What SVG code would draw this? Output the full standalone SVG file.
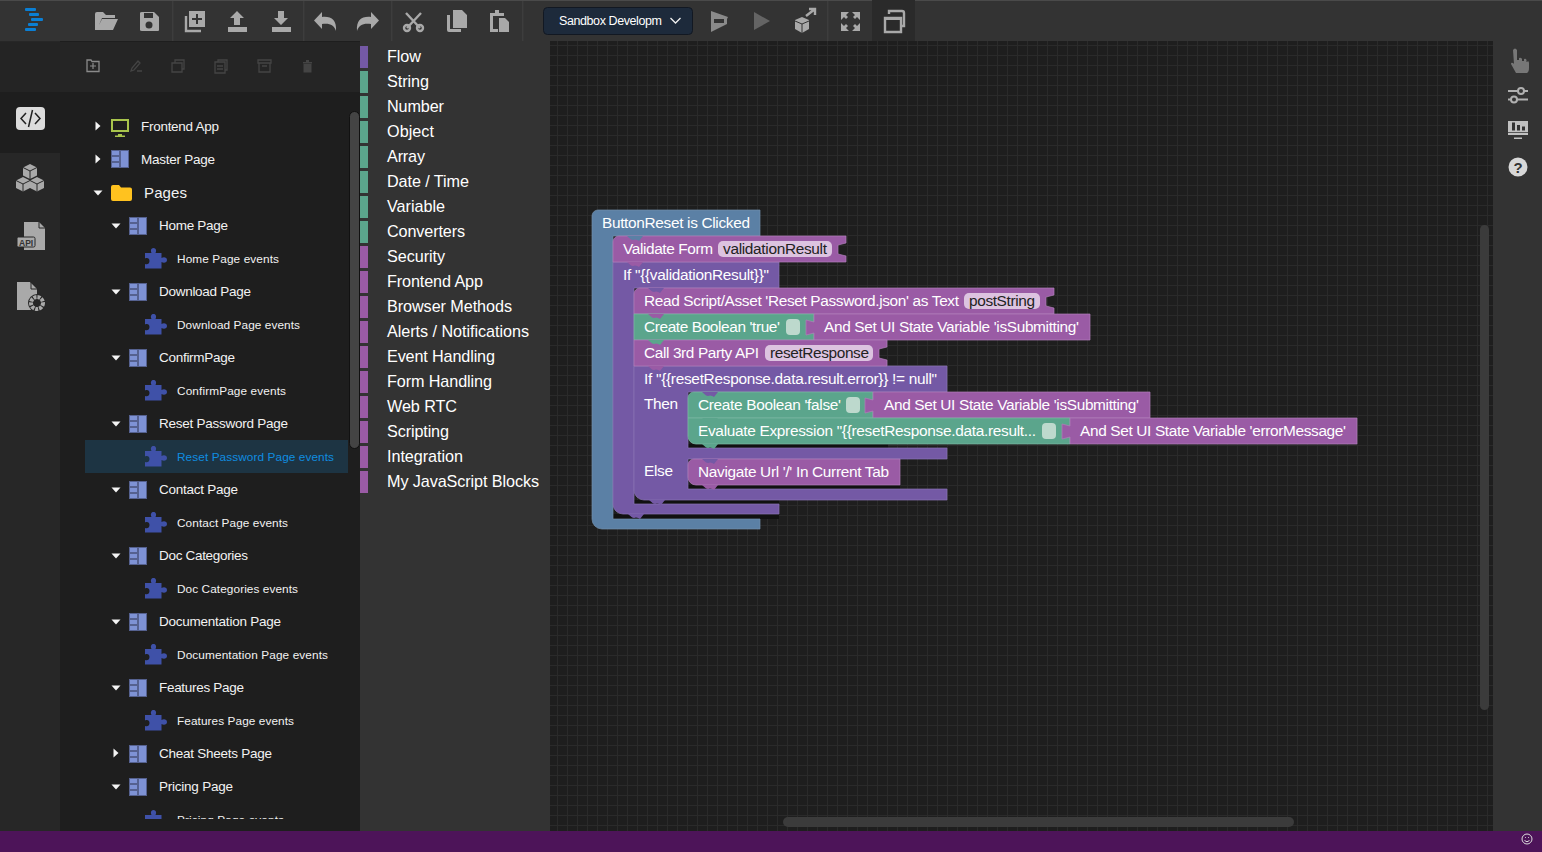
<svg xmlns="http://www.w3.org/2000/svg" width="1542" height="852" viewBox="0 0 1542 852">
<style>
text{font-family:"Liberation Sans",Arial,sans-serif;fill:#fff}
.b{font-size:15.400px}
.cat{font-size:16.200px}
.t{font-size:13.500px;fill:#f2f2f2}
.e{font-size:11.800px;fill:#f2f2f2}
.pill{fill:#dcc3e0}
.pt{fill:#222;font-size:15.400px}
.bool{fill:#bdd9cd}
.pk{fill:#9a5ba5;stroke:#b27fba;stroke-width:.7}
.vi{fill:#7459a5;stroke:#8b74b5;stroke-width:.7}
.gr{fill:#5ba58c;stroke:#7cb9a4;stroke-width:.7}
.bl{fill:#5b80a5;stroke:#7491ae;stroke-width:.7}
.ic{fill:#a9a9a9}
.ln{fill:none;stroke:#a9a9a9;stroke-width:2.400}
.dim{fill:#444}
.dl{fill:none;stroke:#444;stroke-width:1.300}
.sep{fill:#3d3d3d}
.ar{fill:#f4f4f4}
</style>
<defs>
<pattern id="grid" width="10" height="10" patternUnits="userSpaceOnUse" x="7" y="5">
<rect width="10" height="10" fill="#1e1e1e"/>
<path d="M.5 0V10M0 .5H10" stroke="#2a2a2a" stroke-width="1" fill="none"/>
</pattern>
<g id="page"><rect x=".5" y=".5" width="8" height="5" fill="#7e92d4" stroke="#55618f"/><rect x=".5" y="6.500" width="8" height="5" fill="#7e92d4" stroke="#55618f"/><rect x=".5" y="12.500" width="8" height="5" fill="#7e92d4" stroke="#55618f"/><rect x="9.500" y=".5" width="8" height="17" fill="#7e92d4" stroke="#55618f"/></g>
<path id="puz" fill="#3f51a8" d="M0 5H6.500C5 2 6.500 0 8.500 0S12 2 10.500 5H16.500V10C19 8.500 22 9.500 22 12S19 15.500 16.500 14V20.500H0V16C2.500 17 4.500 15.500 4.500 13S2.500 9.500 0 10.500Z"/>
<path id="ad" class="ar" d="M-4.500 -2.500H4.500L0 2.500Z"/>
<path id="ar" class="ar" d="M-2.500 -4.500L2.500 0L-2.500 4.500Z"/>
<path id="bump" d="M0 0L3.500 3Q5.500 4.500 8 3.500Q10.500 3.500 12 5L16 0Z"/>
<clipPath id="tree"><rect x="60" y="100" width="289" height="719"/></clipPath>
</defs>

<rect width="1542" height="852" fill="#333"/>
<rect id="canvas" x="550" y="41" width="943" height="790" fill="url(#grid)"/>
<rect x="0" y="41" width="60" height="790" fill="#272727"/>
<rect x="0" y="42" width="60" height="50" fill="#242424"/>
<rect x="0" y="92" width="60" height="61" fill="#1e1e1e"/>
<rect x="60" y="41" width="300" height="790" fill="#1e1e1e"/>
<rect x="60" y="42" width="300" height="50" fill="#252525"/>
<rect x="0" y="831" width="1542" height="21" fill="#4d1459"/>
<rect x="0" y="0" width="1542" height="1" fill="#4a4a4a"/>
<rect x="872" y="0" width="43" height="41" fill="#2a2a2a"/>
<rect class="sep" x="172" y="1" width="1.500" height="40"/>
<rect class="sep" x="303" y="1" width="1.500" height="40"/>
<rect class="sep" x="391" y="1" width="1.500" height="40"/>
<rect class="sep" x="522" y="1" width="1.500" height="40"/>
<rect class="sep" x="827" y="1" width="1.500" height="40"/>

<g id="logo" fill="#0b7fd4"><rect x="25" y="8" width="11" height="3" rx="1"/><rect x="29" y="13" width="10" height="3" rx="1"/><rect x="31" y="18" width="12" height="3" rx="1"/><rect x="28" y="23" width="10" height="3" rx="1"/><rect x="25" y="28" width="11" height="3" rx="1"/></g>

<g id="toolbar">
<path class="ic" d="M95 30V14q0-2 2-2h6l3 3h9v3h-13l-3 7 3-6h16l-5 11H95Z"/>
<path class="ic" d="M142 12h12l5 5v13q0 1-1 1h-16q-2 0-2-1V13q0-1 2-1Z"/><rect x="144" y="13" width="9" height="5" fill="#333"/><circle cx="149" cy="25" r="3.500" fill="#333"/>
<path class="ln" d="M186 16v15h15"/><rect class="ic" x="189" y="11" width="16" height="16"/><path d="M196 14h2v4h4v2h-4v4h-2v-4h-4v-2h4Z" fill="#333"/>
<path class="ic" d="M237 11l7 7h-4v7h-6v-7h-4ZM228 27h19v5h-19Z"/>
<path class="ic" d="M278 11h6v7h4l-7 7-7-7h4ZM272 27h19v5h-19Z"/>
<path class="ic" d="M322 12v5c9-1 15 3 14 14-2-6-6-8-14-7v5l-8-8.500Z"/>
<path class="ic" d="M371 12v5c-9-1-15 3-14 14 2-6 6-8 14-7v5l8-8.500Z"/>
<path class="ln" d="M406 13l14 15M421 13l-14 15" stroke-width="3"/><circle class="ln" cx="407" cy="28" r="3"/><circle class="ln" cx="420" cy="28" r="3"/>
<path class="ic" d="M447 15h3v14h11v3h-12q-2 0-2-2ZM453 10h9l5 5v13h-14Z"/>
<path class="ic" d="M490 13h5v-3h4v3h5v3h-14ZM490 16h3v13h5v3h-8ZM499 18h6l4 4v10h-10Z"/>
<path d="M711 11l17 6-1 2v5l-16 8Zm3 8v4h10v-4Z" fill="#8a8a8a"/>
<path d="M754 12l16 9-16 9Z" fill="#646464"/>
<path class="ic" d="M795 20l7-3 7 3v9l-7 4-7-4Z"/><path d="M795 21l7 3 7-3M802 24v9" stroke="#333" fill="none"/><path class="ln" d="M806 16l9-7m-6 0h6v6" stroke-width="1.800"/>
<path class="ic" d="M841 12h8l-3 3 2 2-2 2-2-2-3 3ZM860 12v8l-3-3-2 2-2-2 2-2-3-3ZM841 31v-8l3 3 2-2 2 2-2 2 3 3ZM860 31h-8l3-3-2-2 2-2 2 2 3-3Z"/>
<path class="ln" d="M885 18h16v14h-16ZM889 14v-3h13q2 0 2 2v13h-3" stroke-width="2"/><rect class="ic" x="885" y="17" width="16" height="3"/>
</g>

<g id="env">
<rect x="543.500" y="7.500" width="149" height="27" rx="4" fill="#1d2a3b" stroke="#121822"/>
<text x="559" y="25" font-size="12.500" textLength="103">Sandbox Developm</text>
<path d="M670.500 18l5 5 5-5" fill="none" stroke="#f0f0f0" stroke-width="1.300"/>
</g>

<g id="rail">
<rect x="16" y="107" width="29" height="23" rx="4" fill="#dcdcdc"/>
<path d="M26 113l-5 5.500 5 5.500M35 113l5 5.500-5 5.500M32.500 110l-4 17" fill="none" stroke="#222" stroke-width="1.500"/>
<path class="ic" d="M30 164l7 3.500v8L30 179l-7-3.500v-8ZM23 177l7 3.500v7.500l-7 3.500-7-3.500v-7.500ZM37 177l7 3.500v7.500l-7 3.500-7-3.500v-7.500Z"/>
<path d="M23 167.500l7 3.500 7-3.500M16 180.500l7 3.500 7-3.500M30 180.500l7 3.500 7-3.500M30 171v8M23 184v7.500M37 184v7.500" fill="none" stroke="#272727" stroke-width="1"/>
<path class="ic" d="M24 222h15l6 6v22H24Z"/><path d="M39 222v6h6" fill="none" stroke="#272727"/>
<rect x="17" y="237" width="18" height="10" rx="1.500" fill="#a9a9a9" stroke="#272727"/>
<text x="19" y="245.500" font-size="8.500" style="fill:#333" font-weight="bold">API</text>
<path class="ic" d="M17 282h13l7 7v21H17Z"/><path d="M31 282v7h7" fill="none" stroke="#272727"/>
<circle cx="37" cy="303" r="9" fill="#272727"/><circle cx="37" cy="303" r="6" fill="none" stroke="#a9a9a9" stroke-width="4" stroke-dasharray="3 1"/>
</g>

<g id="right-rail">
<path d="M1513 50q2-3 4 0V60h2v-2q2-1 3 1v2h2v-2q2-1 2.500 1v2h1v-1q1.500 0 1.500 2v5q0 4-2 5h-11l-5-9q0-2 2-1l1 1Z" fill="#777"/>
<path d="M1508 91h20M1508 99.500h20" stroke="#b0b0b0" stroke-width="1.800" fill="none"/><circle cx="1521" cy="91" r="3" fill="#333" stroke="#b0b0b0" stroke-width="2"/><circle cx="1514" cy="99.500" r="3" fill="#333" stroke="#b0b0b0" stroke-width="2"/>
<path d="M1508 121h20v14h-20Z" fill="#c0c0c0"/><path d="M1512 122.500h3v8h-3ZM1517 125h3v5.500h-3ZM1522 126.500h3v4h-3ZM1508 132h20v.8h-20Z" fill="#333"/><path d="M1514 137.500h8v1.500h-8Z" fill="#c0c0c0"/>
<circle cx="1518" cy="167" r="9.500" fill="#d8d8d8"/><text x="1518" y="172.500" font-size="15" font-weight="bold" text-anchor="middle" style="fill:#333">?</text>
</g>

<g id="panel-tools">
<path d="M87 60h4l1 1.500h7v10H87Z" fill="none" stroke="#8a8a8a" stroke-width="1.300"/><path d="M93 63v6M90 66h6" stroke="#8a8a8a" stroke-width="1.200"/>
<path class="dl" d="M131 71l1-3 6-7 2 2-6 7ZM137 71h5"/>
<path class="dl" d="M172 63h10v9h-10ZM175 63v-3h9v9h-2"/>
<path class="dl" d="M215 62h10v11h-10ZM218 62v-2h9v10h-2M217 66h6M217 69h6"/>
<path class="dl" d="M258 60h13v3h-13ZM259 63v9h11v-9M262 66h5"/>
<path class="dim" d="M303 62h9v1.500h-9ZM306 60h3v2h-3ZM303.500 64h8v8.500h-8Z"/>
</g>

<g id="tree-panel" clip-path="url(#tree)">
<rect x="85" y="440" width="263" height="33" fill="#1d3443"/>
<g id="n-frontend"><use href="#ar" x="98" y="126"/><path d="M112 120h16v11h-16Z" fill="none" stroke="#a8c44c" stroke-width="2"/><path d="M118 134h4v1.500h3v1.500h-10v-1.500h3Z" fill="#a8c44c"/><text class="t" x="141" y="131" textLength="78">Frontend App</text></g>
<g id="n-master"><use href="#ar" x="98" y="159"/><use href="#page" x="111" y="150"/><text class="t" x="141" y="164" textLength="74">Master Page</text></g>
<g id="n-pages"><use href="#ad" x="98" y="193"/><path d="M111 187q0-2 2-2h6l2 2.500h9q2 0 2 2V199q0 2-2 2h-17q-2 0-2-2Z" fill="#ffc21f"/><text class="t" x="144" y="198" style="font-size:15px" textLength="43">Pages</text></g>
<g id="n-home"><use href="#ad" x="116" y="226"/><use href="#page" x="129" y="217"/><text class="t" x="159" y="230" textLength="69">Home Page</text></g>
<g id="n-home-ev"><use href="#puz" x="145" y="248"/><text class="e" x="177" y="263" textLength="102">Home Page events</text></g>
<g id="n-download"><use href="#ad" x="116" y="292"/><use href="#page" x="129" y="283"/><text class="t" x="159" y="296" textLength="92">Download Page</text></g>
<g id="n-download-ev"><use href="#puz" x="145" y="314"/><text class="e" x="177" y="329" textLength="123">Download Page events</text></g>
<g id="n-confirm"><use href="#ad" x="116" y="358"/><use href="#page" x="129" y="349"/><text class="t" x="159" y="362" textLength="76">ConfirmPage</text></g>
<g id="n-confirm-ev"><use href="#puz" x="145" y="380"/><text class="e" x="177" y="395" textLength="109">ConfirmPage events</text></g>
<g id="n-reset"><use href="#ad" x="116" y="424"/><use href="#page" x="129" y="415"/><text class="t" x="159" y="428" textLength="129">Reset Password Page</text></g>
<g id="n-reset-ev"><use href="#puz" x="145" y="446"/><text class="e" x="177" y="461" textLength="157" style="fill:#0f8de0">Reset Password Page events</text></g>
<g id="n-contact"><use href="#ad" x="116" y="490"/><use href="#page" x="129" y="481"/><text class="t" x="159" y="494" textLength="79">Contact Page</text></g>
<g id="n-contact-ev"><use href="#puz" x="145" y="512"/><text class="e" x="177" y="527" textLength="111">Contact Page events</text></g>
<g id="n-doc"><use href="#ad" x="116" y="556"/><use href="#page" x="129" y="547"/><text class="t" x="159" y="560" textLength="89">Doc Categories</text></g>
<g id="n-doc-ev"><use href="#puz" x="145" y="578"/><text class="e" x="177" y="593" textLength="121">Doc Categories events</text></g>
<g id="n-documentation"><use href="#ad" x="116" y="622"/><use href="#page" x="129" y="613"/><text class="t" x="159" y="626" textLength="122">Documentation Page</text></g>
<g id="n-documentation-ev"><use href="#puz" x="145" y="644"/><text class="e" x="177" y="659" textLength="151">Documentation Page events</text></g>
<g id="n-features"><use href="#ad" x="116" y="688"/><use href="#page" x="129" y="679"/><text class="t" x="159" y="692" textLength="85">Features Page</text></g>
<g id="n-features-ev"><use href="#puz" x="145" y="710"/><text class="e" x="177" y="725" textLength="117">Features Page events</text></g>
<g id="n-cheat"><use href="#ar" x="116" y="753"/><use href="#page" x="129" y="745"/><text class="t" x="159" y="758" textLength="113">Cheat Sheets Page</text></g>
<g id="n-pricing"><use href="#ad" x="116" y="787"/><use href="#page" x="129" y="778"/><text class="t" x="159" y="791" textLength="74">Pricing Page</text></g>
<g id="n-pricing-ev"><use href="#puz" x="145" y="810"/><text class="e" x="177" y="824" textLength="107">Pricing Page events</text></g>
</g>
<rect x="349.500" y="111.500" width="10" height="337" rx="5" fill="#444" stroke="#111"/>

<g id="categories">
<g fill="#7459a5"><rect x="360" y="46" width="8" height="22"/></g>
<g fill="#5ba58c"><rect x="360" y="71" width="8" height="22"/><rect x="360" y="96" width="8" height="22"/><rect x="360" y="121" width="8" height="22"/><rect x="360" y="146" width="8" height="22"/><rect x="360" y="171" width="8" height="22"/><rect x="360" y="196" width="8" height="22"/><rect x="360" y="221" width="8" height="22"/></g>
<g fill="#9a5ba5"><rect x="360" y="246" width="8" height="22"/><rect x="360" y="271" width="8" height="22"/><rect x="360" y="296" width="8" height="22"/><rect x="360" y="321" width="8" height="22"/><rect x="360" y="346" width="8" height="22"/><rect x="360" y="371" width="8" height="22"/><rect x="360" y="396" width="8" height="22"/><rect x="360" y="421" width="8" height="22"/><rect x="360" y="446" width="8" height="22"/><rect x="360" y="471" width="8" height="22"/></g>
<text class="cat" x="387" y="62" textLength="34">Flow</text>
<text class="cat" x="387" y="87" textLength="42">String</text>
<text class="cat" x="387" y="112" textLength="57">Number</text>
<text class="cat" x="387" y="137" textLength="47">Object</text>
<text class="cat" x="387" y="162" textLength="38">Array</text>
<text class="cat" x="387" y="187" textLength="82">Date / Time</text>
<text class="cat" x="387" y="212" textLength="58">Variable</text>
<text class="cat" x="387" y="237" textLength="78">Converters</text>
<text class="cat" x="387" y="262" textLength="58">Security</text>
<text class="cat" x="387" y="287" textLength="96">Frontend App</text>
<text class="cat" x="387" y="312" textLength="125">Browser Methods</text>
<text class="cat" x="387" y="337" textLength="142">Alerts / Notifications</text>
<text class="cat" x="387" y="362" textLength="108">Event Handling</text>
<text class="cat" x="387" y="387" textLength="105">Form Handling</text>
<text class="cat" x="387" y="412" textLength="70">Web RTC</text>
<text class="cat" x="387" y="437" textLength="62">Scripting</text>
<text class="cat" x="387" y="462" textLength="76">Integration</text>
<text class="cat" x="387" y="487" textLength="152">My JavaScript Blocks</text>
</g>

<g id="scrollbars" fill="#3b3b3b">
<rect x="1480" y="225" width="9" height="485" rx="4.500"/>
<rect x="783" y="817" width="511" height="10" rx="5"/>
</g>
<circle cx="1527" cy="839" r="5" fill="none" stroke="#ddd" stroke-width="1"/><path d="M1524.500 840.500q2.500 2.500 5 0M1525 837.500h.8M1528.200 837.500h.8" fill="none" stroke="#ddd"/>

<g id="blocks">
<path d="M613 514h166v5H613ZM634 500h145v5H634ZM688 444h200v4H688ZM688 485h212v4H688Z" fill="#111"/>
<g id="b-hat"><path class="bl" d="M598 210H760V236H613V519H760V529H602a10 10 0 0 1-10-10V216a6 6 0 0 1 6-6Z"/><text class="b" x="602" y="228" textLength="148">ButtonReset is Clicked</text></g>
<g id="b-if1"><path class="vi" d="M613 262H779V288H634V504H779V514H623a10 10 0 0 1-10-10Z"/><use href="#bump" x="628" y="514" fill="#7459a5"/><text class="b" x="623" y="280" textLength="146">If "{{validationResult}}"</text></g>
<g id="b-validate"><path class="pk" d="M619 236H846V243L838 245V254L846 256V262H613V242a6 6 0 0 1 6-6Z"/><use href="#bump" x="627" y="236" fill="#5b80a5"/><use href="#bump" x="627" y="262" fill="#9a5ba5"/><text class="b" x="623" y="254" textLength="90">Validate Form</text><rect class="pill" x="718" y="241" width="114" height="16" rx="5"/><text class="pt" x="723" y="254" textLength="104">validationResult</text></g>
<g id="b-if2"><path class="vi" d="M634 366H947V392H688V448H947V459H688V489H947V500H644a10 10 0 0 1-10-10Z"/><use href="#bump" x="649" y="500" fill="#7459a5"/><text class="b" x="644" y="383.500" textLength="293">If "{{resetResponse.data.result.error}} != null"</text><text class="b" x="644" y="409" textLength="34">Then</text><text class="b" x="644" y="476" textLength="29">Else</text></g>
<g id="b-read"><path class="pk" d="M640 288H1054V295L1046 297V306L1054 308V314H634V294a6 6 0 0 1 6-6Z"/><use href="#bump" x="648" y="288" fill="#7459a5"/><text class="b" x="644" y="305.500" textLength="315">Read Script/Asset 'Reset Password.json' as Text</text><rect class="pill" x="964" y="293" width="76" height="16" rx="5"/><text class="pt" x="969" y="305.500" textLength="66">postString</text></g>
<g id="b-true"><path class="gr" d="M634 314H814V340H634Z"/><use href="#bump" x="648" y="314" fill="#9a5ba5"/><text class="b" x="644" y="331.500" textLength="136">Create Boolean 'true'</text><rect class="bool" x="786" y="319" width="14" height="16" rx="4"/></g>
<g id="b-set1"><path class="pk" d="M814 314H1090V340H814V333L806 335V320L814 322Z"/><text class="b" x="824" y="331.500" textLength="255">And Set UI State Variable 'isSubmitting'</text></g>
<g id="b-call"><path class="pk" d="M634 340H887V347L879 349V358L887 360V366H634Z"/><use href="#bump" x="648" y="340" fill="#5ba58c"/><use href="#bump" x="648" y="366" fill="#9a5ba5"/><text class="b" x="644" y="357.500" textLength="115">Call 3rd Party API</text><rect class="pill" x="765" y="345" width="108" height="16" rx="5"/><text class="pt" x="770" y="357.500" textLength="99">resetResponse</text></g>
<g id="b-false"><path class="gr" d="M694 392H873V418H688V398a6 6 0 0 1 6-6Z"/><use href="#bump" x="702" y="392" fill="#7459a5"/><text class="b" x="698" y="409.500" textLength="143">Create Boolean 'false'</text><rect class="bool" x="846" y="397" width="14" height="16" rx="4"/></g>
<g id="b-set2"><path class="pk" d="M873 392H1150V418H873V411L865 413V398L873 400Z"/><text class="b" x="884" y="409.500" textLength="255">And Set UI State Variable 'isSubmitting'</text></g>
<g id="b-eval"><path class="gr" d="M688 418H1070V444H696a8 8 0 0 1-8-8Z"/><use href="#bump" x="702" y="418" fill="#5ba58c"/><use href="#bump" x="702" y="444" fill="#5ba58c"/><text class="b" x="698" y="435.500" textLength="338">Evaluate Expression "{{resetResponse.data.result...</text><rect class="bool" x="1042" y="423" width="14" height="16" rx="4"/></g>
<g id="b-set3"><path class="pk" d="M1070 418H1357V444H1070V437L1062 439V424L1070 426Z"/><text class="b" x="1080" y="435.500" textLength="266">And Set UI State Variable 'errorMessage'</text></g>
<g id="b-nav"><path class="pk" d="M694 459H900V485H696a8 8 0 0 1-8-8V465a6 6 0 0 1 6-6Z"/><use href="#bump" x="702" y="459" fill="#7459a5"/><use href="#bump" x="702" y="485" fill="#9a5ba5"/><text class="b" x="698" y="476.500" textLength="191">Navigate Url '/' In Current Tab</text></g>
</g>
</svg>
